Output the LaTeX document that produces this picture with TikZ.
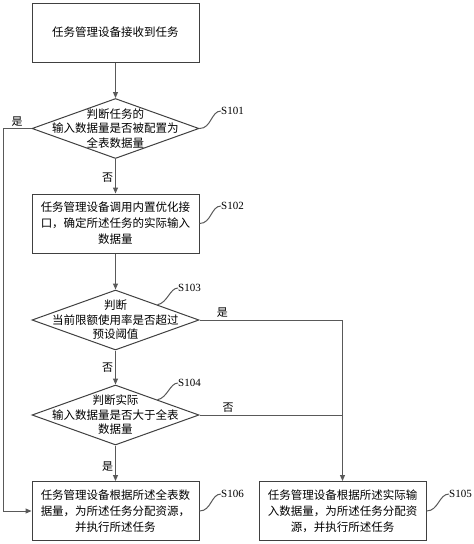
\documentclass[tikz,border=0pt]{standalone}
\usepackage{fontspec}
\setmainfont{Liberation Serif}
\newfontfamily\cjk{Noto Sans CJK SC}
\usetikzlibrary{arrows.meta,calc}
\usetikzlibrary{positioning,shapes.geometric}

\begin{document}
\begin{tikzpicture}[
  x=1pt, y=-1pt,
  procbox/.style={draw=black!75, line width=1pt, minimum width=167pt, minimum height=59pt,
    align=center, inner sep=0pt, font=\cjk\fontsize{11.5}{16}\selectfont},
  decision/.style={diamond, draw=black!75, line width=1pt, minimum width=167pt,
    minimum height=60pt, inner sep=0pt},
  dtext/.style={align=center, inner sep=0pt, font=\cjk\fontsize{11.5}{14.5}\selectfont},
  tag/.style={anchor=west, inner sep=0pt, font=\fontsize{11}{11}\selectfont},
  yn/.style={inner sep=2pt, font=\cjk\fontsize{11}{11}\selectfont},
  line/.style={draw=black!65, line width=1pt},
  arrow/.style={-{Triangle[length=6pt,width=5pt]}},
  node distance=96pt
  ]
  \useasboundingbox (0,0) rectangle (474,544);

  % Main column
  \node[procbox] (b1) at (115.5,32.5) {任务管理设备接收到任务};
  \node[decision, below of=b1, node distance=96pt] (d1) {};
  \node[dtext] (t1) at (d1) {判断任务的\\输入数据量是否被配置为\\全表数据量};
  \node[procbox, below of=d1, node distance=95pt] (b2) {任务管理设备调用内置优化接\\口，确定所述任务的实际输入\\数据量};
  \node[decision, below of=b2, node distance=96.5pt] (d3) {};
  \node[dtext] (t3) at (d3) {判断\\当前限额使用率是否超过\\预设阈值};
  \node[decision, below of=d3, node distance=95pt] (d4) {};
  \node[dtext] (t4) at (d4) {判断实际\\输入数据量是否大于全表\\数据量};
  \node[procbox, below of=d4, node distance=96pt] (b6) {任务管理设备根据所述全表数\\据量，为所述任务分配资源，\\并执行所述任务};

  % Right branch
  \node[procbox, right of=b6, node distance=227pt] (b5) {任务管理设备根据所述实际输\\入数据量，为所述任务分配资\\源，并执行所述任务};

  % Step tags
  \node[tag] (s101) at (221,111) {S101};
  \node[tag] (s102) at (221,206) {S102};
  \node[tag] (s103) at (178,288) {S103};
  \node[tag] (s104) at (178,383) {S104};
  \node[tag] (s106) at (221,494) {S106};
  \node[tag] (s105) at (449,494) {S105};
  \draw[line] (d1.east) .. controls +(12,0) and +(-10,0) .. (s101.west);
  \draw[line] (b2.east) .. controls +(12,0) and +(-10,0) .. (s102.west);
  \draw[line] (d3.north east) .. controls +(10,-2) and +(-8,0) .. (s103.west);
  \draw[line] (d4.north east) .. controls +(10,-2) and +(-8,0) .. (s104.west);
  \draw[line] (b6.east) .. controls +(12,0) and +(-10,0) .. (s106.west);
  \draw[line] (b5.east) .. controls +(12,0) and +(-10,0) .. (s105.west);

  % Connections
  \coordinate (lft) at (3,128.5);
  \coordinate (rgt) at (b5.north |- d3.east);
  \draw[line, arrow] (b1) -- (d1);
  \draw[line, arrow] (d1) -- node[yn, left, pos=0.53] {否} (b2);
  \draw[line, arrow] (b2) -- (d3);
  \draw[line, arrow] (d3) -- node[yn, left, pos=0.5] {否} (d4);
  \draw[line, arrow] (d4) -- node[yn, left, pos=0.6] {是} (b6);
  \draw[line, arrow] (d1.west) -- node[yn, above, pos=0.5] {是} (lft) |- (b6.west);
  \draw[line, arrow] (d3.east) -- node[yn, above, pos=0.16] {是} (rgt) -- (b5.north);
  \draw[line] (d4.east) -- node[yn, above, pos=0.2] {否} (b5.north |- d4.east);

\end{tikzpicture}
\end{document}
